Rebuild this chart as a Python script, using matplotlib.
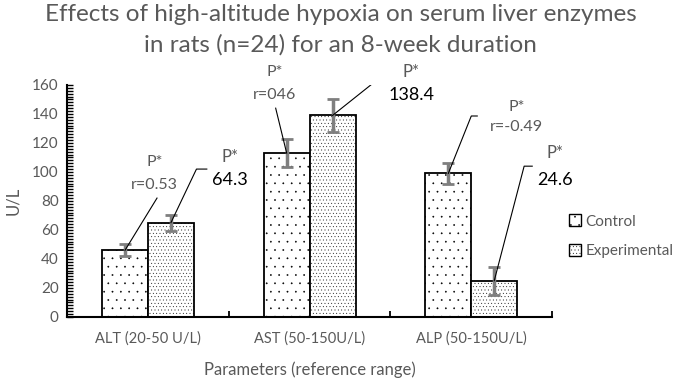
import matplotlib
matplotlib.use("Agg")
import matplotlib.pyplot as plt
import matplotlib.hatch as mhatch
import numpy as np
from matplotlib.patches import Patch
from matplotlib.ticker import MultipleLocator

categories = ["ALT (20-50 U/L)", "AST (50-150U/L)", "ALP (50-150U/L)"]
control = [46, 113, 99]
experimental = [65, 139, 25]
control_err = [4, 9.5, 7.5]
experimental_err = [5.5, 11.5, 9.5]
r_labels = ["r=0.53", "r=046", "r=-0.49"]
value_labels = ["64.3", "138.4", "24.6"]

plt.rcParams['font.family'] = ['Lato', 'DejaVu Sans']
gray = '#595959'
plt.rcParams['hatch.linewidth'] = 0.3
mhatch.SmallFilledCircles.size = 0.08

ctrl_hatch = '..'
exp_hatch = '.....'

fig = plt.figure(figsize=(6.85, 3.81), dpi=100)
ax = fig.add_axes([0.098, 0.168, 0.708, 0.609])

x = np.arange(len(categories))
w = 0.284
ax.bar(x - w / 2, control, w, color='white', edgecolor='black', linewidth=1.3,
       hatch=ctrl_hatch, label='Control')
ax.bar(x + w / 2, experimental, w, color='white', edgecolor='black', linewidth=1.3,
       hatch=exp_hatch, label='Experimental')
ax.errorbar(x - w / 2, control, yerr=control_err, fmt='none', ecolor='#7f7f7f',
            elinewidth=2.5, capsize=4, capthick=2)
ax.errorbar(x + w / 2, experimental, yerr=experimental_err, fmt='none', ecolor='#7f7f7f',
            elinewidth=2.5, capsize=4, capthick=2)

# leader lines + labels (label positions in data coords)
ctrl_pos = [(0.04, 107, 91, 0.056, 82), (0.784, 169, 153, 0.79, 144),
            (2.278, 145, 131, 2.037, 138.6)]
ctrl_elbow = [None, None, 2.0]
for i, (tx, py, ry, sx, sy) in enumerate(ctrl_pos):
    ax.text(tx, py, "P*", ha='center', va='center', color=gray, fontsize=11.5)
    ax.text(tx, ry, r_labels[i], ha='center', va='center', color=gray, fontsize=11.5)
    if ctrl_elbow[i] is None:
        ax.plot([sx, x[i] - w / 2], [sy, control[i]], color='black', lw=0.8)
    else:
        ax.plot([sx, ctrl_elbow[i], x[i] - w / 2], [sy, sy, control[i]],
                color='black', lw=0.8)

exp_pos = [(0.506, 110, 94.5, 0.364, 0.30, 102), (1.63, 169, 153, 1.463, 1.401, 162),
           (2.52, 113, 94.5, 2.377, 2.327, 104)]
for i, (tx, py, vy, sx, ex, sy) in enumerate(exp_pos):
    ax.text(tx, py, "P*", ha='center', va='center', color=gray, fontsize=12)
    ax.text(tx, vy, value_labels[i], ha='center', va='center', color='black', fontsize=13)
    ax.plot([sx, ex, x[i] + w / 2], [sy, sy, experimental[i]], color='black', lw=0.8)

ax.set_xlim(-0.5, 2.5)
ax.set_ylim(0, 160)
ax.yaxis.set_major_locator(MultipleLocator(20))
ax.yaxis.set_minor_locator(MultipleLocator(2))
ax.set_xticks(x)
ax.set_xticklabels(categories)
ax.set_xticks([-0.5, 0.5, 1.5, 2.5], minor=True)
ax.tick_params(axis='x', which='major', length=0, pad=10, labelsize=10.5, labelcolor=gray)
ax.tick_params(axis='x', which='minor', direction='in', length=4, width=1.3)
ax.tick_params(axis='y', which='both', direction='in', length=4, width=1,
               labelsize=11, labelcolor=gray, pad=6)
for s in ['top', 'right']:
    ax.spines[s].set_visible(False)
for s in ['left', 'bottom']:
    ax.spines[s].set_linewidth(1.5)

ax.set_ylabel("U/L", color=gray, fontsize=12, labelpad=8)
ax.set_xlabel("Parameters (reference range)", color=gray, fontsize=12, labelpad=12)

fig.suptitle("Effects of high-altitude hypoxia on serum liver enzymes\nin rats (n=24) for an 8-week duration",
             x=0.497, y=0.99, color=gray, fontsize=17.5, linespacing=1.55, va='top')

handles = [Patch(facecolor='white', edgecolor='black', hatch=ctrl_hatch, label='Control'),
           Patch(facecolor='white', edgecolor='black', hatch=exp_hatch, label='Experimental')]
leg = fig.legend(handles=handles, loc='center left', bbox_to_anchor=(0.81, 0.38),
                 frameon=False, fontsize=11, handlelength=0.8, handleheight=0.8,
                 handletextpad=0.3, labelspacing=1.0)
for t in leg.get_texts():
    t.set_color(gray)

fig.savefig("out.png", dpi=100)
